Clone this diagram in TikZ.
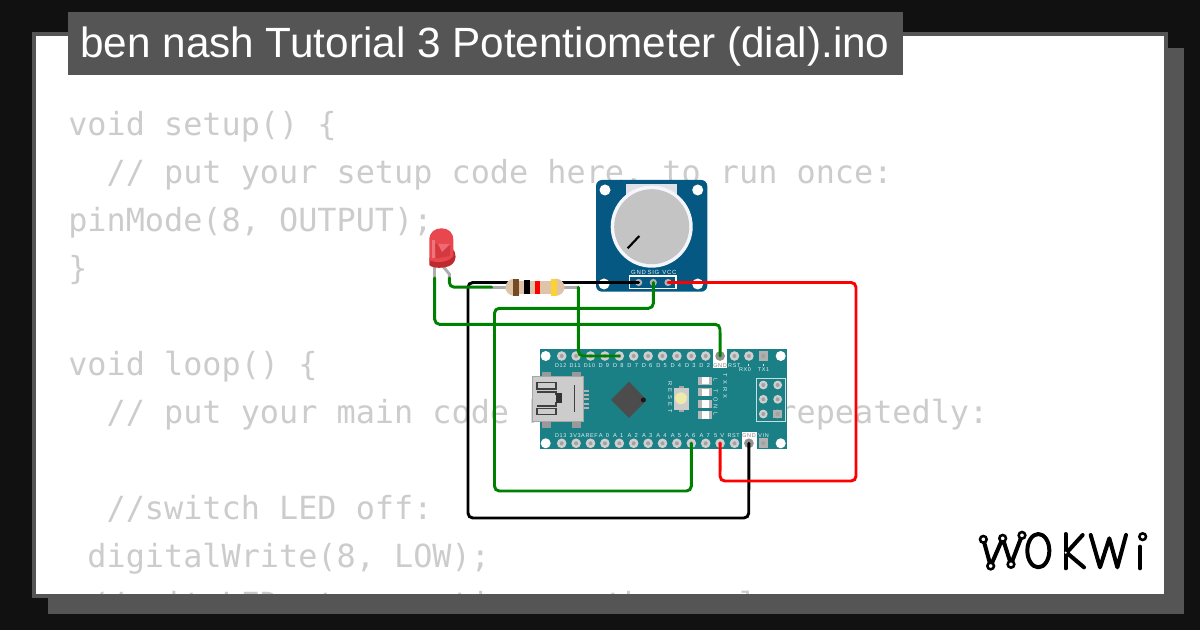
\documentclass[tikz,border=0pt]{standalone}
\usepackage{fontspec}
\setmainfont{Liberation Sans}
\newfontfamily\codefont{DejaVu Sans Mono}
\newfontfamily\titlefont{Liberation Sans}
\newfontfamily\pinfont[LetterSpace=55]{Liberation Sans}
\newfontfamily\tightfont[LetterSpace=12]{Liberation Sans}
\definecolor{bgdark}{HTML}{111111}
\definecolor{panelgray}{HTML}{555555}
\definecolor{codegray}{HTML}{CCCCCC}
\definecolor{teal}{HTML}{1B7F86}
\definecolor{potblue}{HTML}{045881}
\definecolor{wiregreen}{HTML}{008000}
\definecolor{wirered}{HTML}{FF0000}
\definecolor{pinring}{HTML}{CFCFCF}
\definecolor{pincore}{HTML}{A2A2A2}
\definecolor{bodytan}{HTML}{DFC4AA}
\definecolor{silk}{HTML}{E4F0F0}
\definecolor{ledbody}{HTML}{E8474F}
\definecolor{ledbase}{HTML}{BE2A30}
\definecolor{ledcore}{HTML}{D5383F}
\definecolor{ledlight}{HTML}{EE6A70}
\tikzset{
  codeline/.style={anchor=base west,inner sep=0pt,text=codegray,font=\codefont\fontsize{23.88}{24}\selectfont},
  wire/.style={line width=2.2pt,rounded corners=3.6pt,line cap=round},
  pinlabel/.style={inner sep=0pt,text=silk,font=\pinfont\fontsize{4.3}{4.3}\selectfont},
  tightlabel/.style={inner sep=0pt,text=silk,font=\tightfont\fontsize{4.1}{4.1}\selectfont},
  potlabel/.style={inner sep=0pt,text=silk,font=\tightfont\fontsize{4.5}{4.5}\selectfont},
  lead/.style={line width=2.2pt,color=black!32},
  logoline/.style={line width=3pt,line cap=round,line join=round,draw=black},
  logoring/.style={line width=1.9pt,draw=black,fill=white},
}
\begin{document}
\begin{tikzpicture}[x=.75pt,y=-.75pt]
\useasboundingbox (0,0) rectangle (1200,630);
% frame
\fill[bgdark] (0,0) rectangle (1200,630);
\fill[panelgray] (48,48) rectangle (1184,614);
\fill[panelgray] (32,32) rectangle (1168,598);
\fill[white] (36,36) rectangle (1164,594);
% code
\begin{scope}
\clip (36,36) rectangle (1164,594);
\node[codeline] (c1) at (68,136) {void setup() \{};
\node[codeline] (c2) at (68,184) {\ \ // put your setup code here, to run once:};
\node[codeline] (c3) at (68,232) {pinMode(8, OUTPUT);};
\node[codeline] (c4) at (68,280) {\}};
\node[codeline] (c5) at (68,376) {void loop() \{};
\node[codeline] (c6) at (68,424) {\ \ // put your main code here, to run repeatedly:};
\node[codeline] (c7) at (68,520) {\ \ //switch LED off:};
\node[codeline] (c8) at (68,568) {\ digitalWrite(8, LOW);};
\node[codeline] (c9) at (68,616) {\ //wait LED at some time on the scale};
\end{scope}
% title
\fill[panelgray] (68,12) rectangle (903,75);
\node[anchor=base west,inner sep=0pt,text=white] (title) at (80,58) {\resizebox{607pt}{!}{\titlefont\fontsize{30}{30}\selectfont ben nash Tutorial 3 Potentiometer (dial).ino}};

% ===== Nano board =====
\fill[teal] (540.3,349.3) rectangle (786.7,449.3);
\foreach \p in {(545.7,356),(780.7,356),(545.7,443.3),(780.7,443.3)} \fill[white] \p circle (5);
\fill[white] (713.3,349.3) rectangle (727.3,368);
\fill[white] (742.3,431.7) rectangle (756.7,449.3);
\foreach \i in {0,...,14}{
  \coordinate (pt\i) at ({561.7+14.4*\i},356);
  \coordinate (pb\i) at ({561.7+14.4*\i},443.3);
}
\foreach \i in {0,...,13}{
  \fill[pinring] (pt\i) circle (4.8); \fill[pincore] (pt\i) circle (2);
}
\foreach \i in {0,...,13}{
  \fill[pinring] (pb\i) circle (4.8); \fill[pincore] (pb\i) circle (2);
}
\fill[pinring!70!black] (pt11) circle (4.8);
\fill[pinring!70!black] (pb13) circle (4.8);
\foreach \n in {pt14,pb14}{
  \fill[pinring!85!black] ([xshift=-3.6pt,yshift=-3.6pt]\n) rectangle ([xshift=3.6pt,yshift=3.6pt]\n);
  \fill[pincore] (\n) circle (2.2);
}
\foreach \t [count=\i from 0] in {D12,D11,D10}
  \node[tightlabel] (tl\i) at ({561.7+14.4*\i-1},365.5) {\t};
\foreach \t [count=\i from 3] in {D9,D8,D7,D6,D5,D4,D3,D2}
  \node[pinlabel] (tl\i) at ({561.7+14.4*\i-1},365.5) {\t};
\node[tightlabel,text=black!50] (tlg) at (720,365.5) {GND};
\node[tightlabel] (tlr) at (734.3,365.5) {RST};
\foreach \t [count=\i from 0] in {D13,3V3,AREF}
  \node[tightlabel] (bl\i) at ({561.7+14.4*\i-1},435.5) {\t};
\foreach \t [count=\i from 3] in {A0,A1,A2,A3,A4,A5,A6,A7,5V}
  \node[pinlabel] (bl\i) at ({561.7+14.4*\i-1},435.5) {\t};
\node[tightlabel] (blr) at (733.7,435.5) {RST};
\node[tightlabel,text=black!50] (blg) at (749,435.5) {GND};
\node[tightlabel] (blv) at (763.5,435.5) {VIN};
\node[tightlabel] (rxl) at (745,369.5) {RX0};
\node[tightlabel] (txl) at (763.5,369.5) {TX1};
\draw[silk,line width=.4pt] (748.7,364) -- (748.7,366.5) (763,364) -- (763,366.5);
% USB
\fill[black!40] (542,371.7) rectangle (551,428);
\fill[black!40] (572,371.7) rectangle (581,428);
\foreach \y in {390.6,395,399.4,403.8,407.8}
  \fill[black!30] (583,{\y-1}) rectangle (588.5,{\y+1});
\filldraw[fill=black!20,draw=black!35,line width=.5pt] (532.7,376.7) rectangle (583,421);
\draw[black!75,line width=.8pt] (537,382.5) rectangle (556,389);
\draw[black!75,line width=.8pt] (537,408.5) rectangle (556,414.5);
\draw[black!75,line width=.8pt] (537,392) -- (556,392) -- (556,395);
\draw[black!75,line width=.8pt] (537,406) -- (556,406) -- (556,402);
\fill[black!80] (556,393.5) rectangle (562,403);
\draw[black!75,line width=1.1pt] (574.3,385) -- (574.3,412);
% chip
\fill[black!70] (611,400) -- (629,381.7) -- (646.7,400) -- (629,418) -- cycle;
\fill[black!90] (643.3,400) circle (2.5);
% reset button
\fill[black!35] (679,386) rectangle (684,412);
\fill[black!20] (674,388) rectangle (688.7,410);
\fill[yellow!30!white!92!black] (681,398.3) circle (6);
\node[pinlabel,rotate=-90] (resetl) at (670,397) {RESET};
% SMD LEDs
\foreach \y in {380.7,392.3,404,415}{
  \fill[black!28] (697.7,{\y-4}) rectangle (712.3,{\y+4});
  \fill[white] (701.5,{\y-3.6}) rectangle (708.5,{\y+3.6});
}
\node[pinlabel,rotate=-90] (ltx) at (725,386) {TXRX};
\node[pinlabel,rotate=-90] (ll1) at (715.5,380.5) {L};
\node[pinlabel,rotate=-90] (ll2) at (715.5,391) {T};
\node[pinlabel,rotate=-90] (ll3) at (715.5,403) {ON};
\node[pinlabel,rotate=-90] (ll4) at (715.5,414) {L};
% ICSP
\draw[silk!85!teal,line width=.6pt] (756.3,378.3) rectangle (785.3,421);
\foreach \x in {763.3,777.7}\foreach \y in {385,399.3,414}{
  \fill[pinring] (\x,\y) circle (4.4); \fill[pincore] (\x,\y) circle (2);
}
\fill[pinring!85!black] (773.4,409.7) rectangle (782,418.3);
\fill[pincore] (777.7,414) circle (2.2);

% ===== Potentiometer =====
\fill[potblue,rounded corners=4.5pt] (596,180) rectangle (707.3,291.7);
\foreach \p in {(605,190),(697.7,190),(604,284),(697.7,284)} \fill[white] \p circle (5.5);
\fill[blue!20!black!12!white] (626,184.3) rectangle (677.3,205);
\fill[black!5!blue!4!white] (651.7,226.7) circle (41);
\fill[black!23] (651.7,226.7) circle (37.5);
\draw[black,line width=1.6pt] (627.7,248.3) -- (639.3,236);
\draw[white,line width=.9pt] (629.3,276) rectangle (676,288.3);
\coordinate (potGND) at (638.7,282.5);
\coordinate (potSIG) at (653.3,282.5);
\coordinate (potVCC) at (668,282.5);
\foreach \n in {potGND,potSIG,potVCC}{\fill[black!30] (\n) circle (3.6);}
\node[potlabel] (gl) at (638.5,272.3) {GND};
\node[potlabel] (sl) at (653.5,272.3) {SIG};
\node[potlabel] (vl) at (669.5,272.3) {VCC};

% ===== wires: black and red below the resistor =====
\coordinate (bk1) at (468,282.5);
\coordinate (bk2) at (468,518);
\coordinate (bk3) at (748.7,518);
\draw[wire,black] (potGND) -- (bk1) -- (bk2) -- (bk3) -- (pb13);
\coordinate (rd1) at (856,282.5);
\coordinate (rd2) at (856,481);
\coordinate (rd3) at (720,481);
\draw[wire,wirered] (potVCC) -- (rd1) -- (rd2) -- (rd3) -- (pb11);

% ===== Resistor =====
\coordinate (resL) at (491.7,287.2);
\coordinate (resR) at (578.3,287.2);
\draw[lead] (resL) -- (resR);
\fill[bodytan] (514,287.3) ellipse (8.5 and 8.5);
\fill[bodytan] (556,287.3) ellipse (8.5 and 8.5);
\fill[bodytan] (514,280.6) rectangle (556,294);
\fill[brown!60!black] (512.7,279) rectangle (519.2,295.6);
\fill[black] (524.3,280.2) rectangle (530,294.2);
\fill[red] (535,280.6) rectangle (540.3,294);
\fill[yellow!60!orange!80!white] (550.7,279) rectangle (557.3,295.6);

% ===== LED =====
\coordinate (ledA) at (434.7,278);
\coordinate (ledC) at (449.3,278);
\draw[lead] (434.7,266) -- (ledA);
\draw[lead] (442.7,266) -- (449.3,274) -- (ledC);
\fill[ledbase] (429.3,258) -- (429.3,265) .. controls (432,268.5) and (445,269) .. (451,265) .. controls (457,261) and (457,253) .. (452,248) -- cycle;
\fill[ledbody] (429.3,260) -- (429.3,240) .. controls (429.3,232) and (435,228.3) .. (441.5,228.3) .. controls (448,228.3) and (453.3,232) .. (453.3,240) -- (453.3,256) .. controls (449,262) and (437,264) .. (429.3,260) -- cycle;
\fill[ledcore] (435,244) -- (450,244) -- (450,256) -- (436,258.5) -- cycle;
\fill[ledlight] (438,244) -- (450,244) -- (442,252) -- cycle;
\fill[white,opacity=.25] (431.5,240) rectangle (434.5,258);

% ===== green wires =====
\coordinate (gn1) at (653.3,308.3);
\coordinate (gn2) at (494.5,308.3);
\coordinate (gn3) at (494.5,491);
\coordinate (gn4) at (691.3,491);
\draw[wire,wiregreen] (potSIG) -- (gn1) -- (gn2) -- (gn3) -- (gn4) -- (pb9);
\coordinate (ga1) at (434.7,324.3);
\coordinate (ga2) at (720,324.3);
\draw[wire,wiregreen] (ledA) -- (ga1) -- (ga2) -- (pt11);
\coordinate (gc1) at (449.3,287.2);
\draw[wire,wiregreen] (ledC) -- (gc1) -- (resL);
\coordinate (gr1) at (578.3,356);
\draw[wire,wiregreen] (resR) -- (gr1) -- (pt4);

% ===== logo =====
\begin{scope}[shift={(960,510)},x=.25pt,y=-.25pt]
\draw[logoline] (70,88) -- (92,168) -- (128,85) -- (153,163) -- (186,76);
\draw[logoline] (235,122) ellipse (33 and 50);
\draw[logoline] (317,72) -- (317,175);
\draw[logoline] (368,75) -- (320,128) -- (372,172);
\draw[logoline] (392,75) -- (420,172) -- (448,85) -- (472,172) -- (498,75);
\draw[logoline] (540,110) -- (540,175);
\foreach \p in {(70,88),(128,85),(186,76),(92,168),(153,163),(548,80)}
  \filldraw[logoring] \p circle (10);
\fill[white] (317,128) circle (3.5);
\end{scope}
\end{tikzpicture}
\end{document}
